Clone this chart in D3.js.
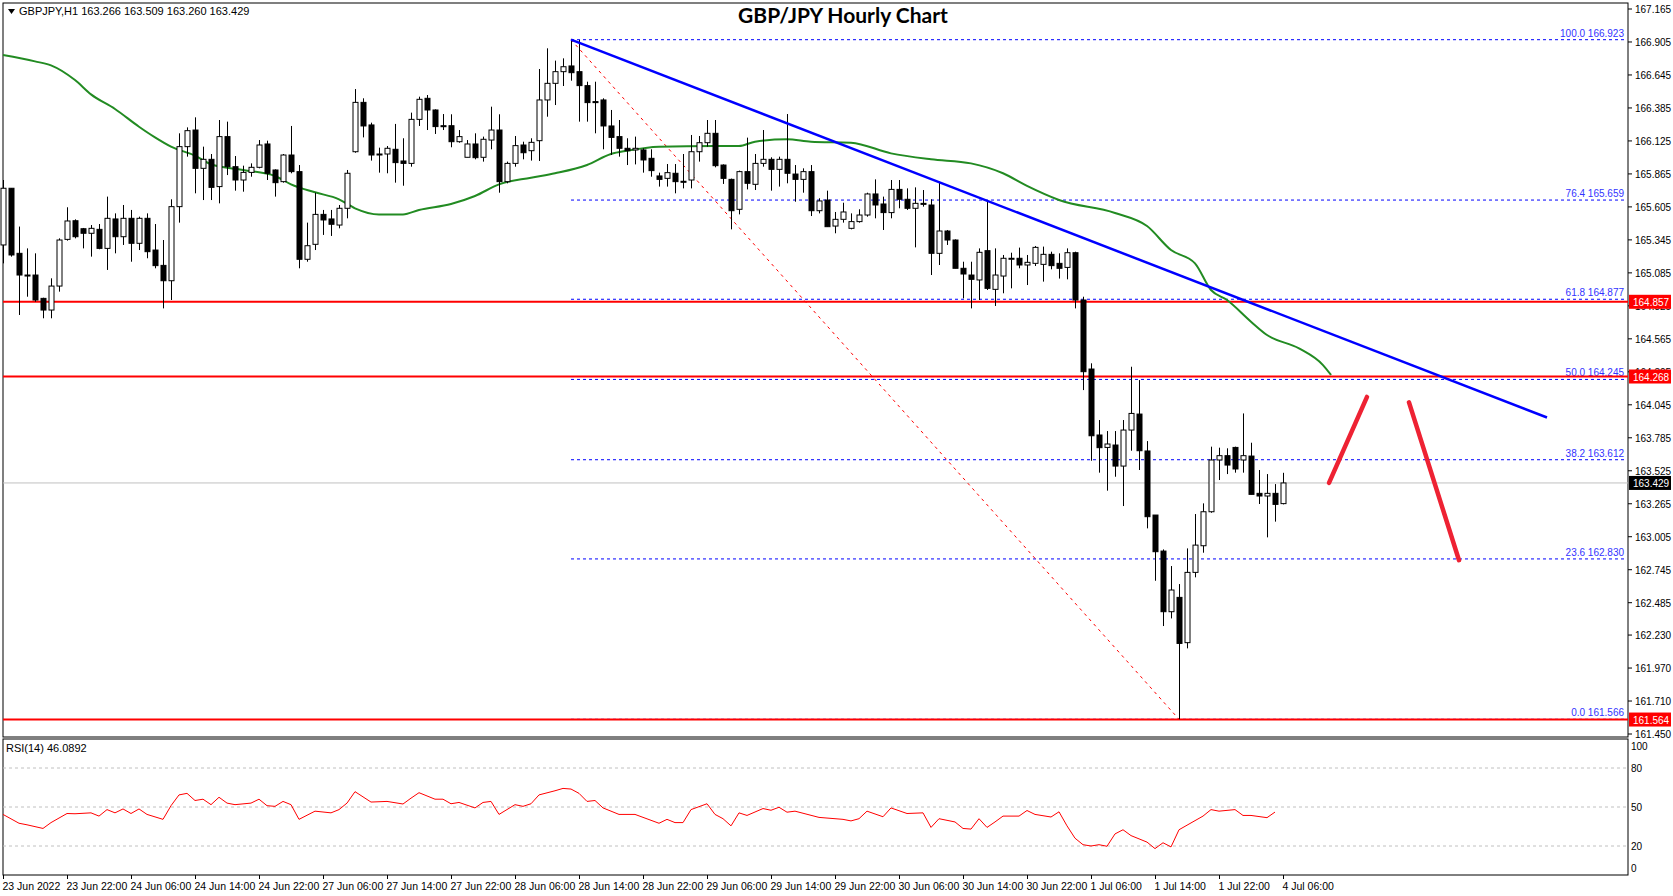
<!DOCTYPE html>
<html>
<head>
<meta charset="utf-8">
<script src="https://cdn.jsdelivr.net/npm/d3@7"></script>
<style>
  body { margin: 0; background: #fff; }
  text { font-family: "Liberation Sans", Arial, sans-serif; }
</style>
</head>
<body>
<svg id="chart" width="1673" height="896"></svg>
<script>
// candles, 1 hour each, 23 Jun 14:00 .. 4 Jul 06:00
const opens = [
  165.305,165.752,165.239,165.068,165.068,164.884,164.792,164.981,165.349,165.496,
  165.433,165.397,165.428,165.278,165.510,165.370,165.515,165.318,165.515,165.265,
  165.144,165.023,165.607,166.080,166.211,165.909,165.980,165.765,166.159,165.922,
  165.817,165.877,165.917,166.101,165.896,165.804,166.014,165.883,165.192,165.310,
  165.546,165.510,165.462,165.594,166.040,166.429,166.251,166.017,166.022,166.059,
  165.967,165.948,166.295,166.461,166.369,166.245,166.245,166.119,165.996,166.101,
  165.996,166.132,166.211,165.804,165.948,166.093,166.048,166.127,166.448,166.579,
  166.671,166.716,166.671,166.561,166.435,166.448,166.243,166.159,166.067,166.054,
  166.054,165.988,165.849,165.830,165.870,165.807,165.817,166.040,166.111,166.185,
  165.935,165.822,165.586,165.883,165.783,165.948,165.980,165.901,165.980,165.864,
  165.822,165.883,165.575,165.659,165.454,165.507,165.436,165.489,165.541,165.707,
  165.628,165.560,165.743,165.665,165.594,165.633,165.620,165.239,165.415,165.344,
  165.121,165.068,165.029,165.260,164.955,165.060,165.197,165.200,165.147,165.160,
  165.152,165.231,165.160,165.128,165.244,164.871,164.327,163.807,163.709,163.728,
  163.562,163.846,163.972,163.681,163.176,162.892,162.414,162.527,162.170,162.724,
  162.934,163.202,163.610,163.644,163.709,163.610,163.641,163.347,163.326,163.347,163.266];
const highs = [
  165.817,165.752,165.450,165.278,165.239,164.889,165.042,165.357,165.602,165.507,
  165.439,165.462,165.470,165.686,165.554,165.620,165.581,165.528,165.554,165.470,
  165.344,165.665,166.185,166.232,166.311,166.080,166.022,166.290,166.277,166.006,
  165.930,165.948,166.132,166.127,165.901,166.022,166.243,165.935,165.481,165.717,
  165.581,165.581,165.620,165.896,166.534,166.461,166.269,166.072,166.085,166.259,
  166.146,166.348,166.474,166.487,166.374,166.337,166.335,166.211,166.132,166.185,
  166.159,166.395,166.335,165.962,166.164,166.119,166.146,166.692,166.855,166.758,
  166.776,166.923,166.921,166.592,166.592,166.461,166.369,166.290,166.146,166.159,
  166.067,166.059,165.875,165.943,165.943,166.022,166.172,166.164,166.290,166.290,
  165.940,165.828,165.891,166.151,166.022,166.211,165.996,166.001,166.337,165.935,
  165.909,165.935,165.673,165.733,165.565,165.638,165.554,165.586,165.717,165.822,
  165.686,165.817,165.817,165.751,165.759,165.738,165.665,165.804,165.423,165.349,
  165.173,165.173,165.278,165.659,165.278,165.226,165.244,165.284,165.226,165.297,
  165.292,165.252,165.239,165.278,165.252,164.897,164.372,163.925,163.838,163.838,
  163.925,164.345,164.240,163.759,163.176,162.905,162.774,162.632,162.913,163.184,
  163.268,163.715,163.707,163.702,163.715,163.977,163.746,163.531,163.499,163.420,163.509];
const lows = [
  165.160,165.213,164.753,164.897,164.858,164.727,164.727,164.937,165.339,165.357,
  165.278,165.213,165.271,165.108,165.239,165.305,165.173,165.265,165.200,165.121,
  164.805,164.871,165.481,166.001,165.712,165.659,165.659,165.633,165.856,165.733,
  165.725,165.843,165.909,165.817,165.686,165.796,165.870,165.121,165.173,165.265,
  165.384,165.376,165.436,165.515,166.032,166.153,165.970,165.875,165.870,165.796,
  165.772,165.922,166.243,166.211,166.180,166.211,166.075,166.111,165.996,165.980,
  165.962,166.059,165.717,165.791,165.922,165.980,165.970,165.967,166.316,166.408,
  166.558,166.600,166.277,166.277,166.185,166.059,166.014,166.001,165.935,165.940,
  165.875,165.843,165.765,165.765,165.712,165.751,165.751,165.962,166.080,165.917,
  165.786,165.428,165.546,165.743,165.738,165.922,165.733,165.765,165.791,165.646,
  165.717,165.533,165.554,165.449,165.397,165.481,165.428,165.481,165.528,165.515,
  165.423,165.515,165.594,165.581,165.286,165.607,165.068,165.147,165.305,165.121,
  164.884,164.805,164.871,164.950,164.824,164.924,164.963,165.121,164.989,165.139,
  165.016,165.113,165.040,165.034,164.805,164.161,163.604,163.510,163.368,163.478,
  163.247,163.683,163.531,163.071,162.658,162.301,162.361,161.566,162.125,162.685,
  162.879,163.194,163.452,163.499,163.510,163.510,163.339,163.263,163.000,163.124,163.260];
const closes = [
  165.752,165.226,165.068,165.063,164.871,164.792,164.981,165.344,165.494,165.370,
  165.397,165.436,165.278,165.515,165.370,165.515,165.318,165.515,165.252,165.142,
  165.023,165.607,166.080,166.206,165.909,165.980,165.759,166.159,165.922,165.817,
  165.877,165.917,166.093,165.870,165.796,166.014,165.883,165.192,165.299,165.546,
  165.502,165.468,165.594,165.870,166.429,166.243,166.014,166.022,166.067,165.954,
  165.948,166.295,166.453,166.369,166.238,166.243,166.119,166.159,166.101,165.993,
  166.138,166.211,165.804,165.948,166.088,166.032,166.114,166.448,166.579,166.671,
  166.710,166.663,166.561,166.427,166.427,166.243,166.153,166.067,166.048,166.067,
  165.975,165.891,165.822,165.875,165.804,165.804,166.040,166.111,166.185,165.930,
  165.830,165.575,165.883,165.791,165.948,165.980,165.901,165.980,165.870,165.822,
  165.883,165.575,165.652,165.449,165.507,165.565,165.489,165.541,165.707,165.620,
  165.560,165.743,165.665,165.594,165.633,165.625,165.239,165.415,165.344,165.121,
  165.076,165.034,165.247,164.963,165.068,165.200,165.200,165.147,165.168,165.286,
  165.231,165.142,165.121,165.244,164.871,164.306,163.801,163.707,163.736,163.562,
  163.846,163.977,163.683,163.163,162.887,162.414,162.585,162.164,162.724,162.939,
  163.202,163.610,163.644,163.570,163.539,163.644,163.339,163.326,163.347,163.260,163.429];

// moving average (green), read at these bars
const maBars = [0,4,6,9,11,14,17,19,21,24,26,30,34,36,39,42,44,47,50,52,56,59,62,66,69,73,76,78,82,89,92,94,98,101,106,111,116,121,125,128,132,139,143,146,149,151,153,156,158,162,165,166];
const maVals = [166.802,166.752,166.721,166.605,166.492,166.377,166.237,166.153,166.080,166.009,165.941,165.896,165.849,165.783,165.720,165.665,165.594,165.546,165.546,165.581,165.628,165.691,165.783,165.835,165.870,165.935,166.022,166.048,166.080,166.085,166.085,166.119,166.138,166.119,166.111,166.027,165.980,165.948,165.870,165.770,165.659,165.557,165.454,165.265,165.160,164.950,164.871,164.700,164.595,164.490,164.358,164.280];

// RSI(14)
const rsiBars = [0,2,3,5,6,8,9,11,12,13,14,15,16,17,18,20,21,22,23,24,25,26,27,28,29,31,32,33,34,35,36,37,39,41,42,43,44,46,48,50,51,52,54,55,56,57,59,60,61,62,64,65,66,67,69,70,71,72,73,74,75,77,79,82,83,84,85,86,88,89,90,91,92,93,95,96,97,98,99,102,105,106,107,108,110,111,113,115,116,117,119,120,121,122,123,124,125,127,128,129,131,132,133,134,135,136,137,138,139,140,141,143,144,145,146,147,148,150,151,152,154,155,156,158,159,160];
const rsiVals = [44.3,37.5,36.3,33.5,38,45,44.8,45.5,43,48,45.5,48.5,45,48.5,44.3,40.5,51,59.3,60.5,55,56,51.8,57.5,53,51.8,53,56,51,50.5,54.3,51.8,40.5,46.8,45.5,48,53,61.8,53.8,54.3,52.3,56.8,61,56,56,52.5,53.5,49.3,53.5,54.3,44.3,51.8,50.5,52.5,59.3,62.5,64.3,63.8,60.5,54.3,55,49.3,44.3,44.3,37.5,40.5,38,38,48,52.5,44.3,41,35.5,45.5,43.5,48.8,47.5,49.8,46,46.8,42,40.5,39.3,41,46.8,42.5,49.3,45,45.5,34.3,41,38.5,33.5,33,41,34.3,38.5,43,43,47.3,44.3,42.3,46.3,35.5,26,21,20,21,19.8,29.3,32.5,28,23,18,22.5,19.3,32.5,36,43,48,46.8,48,43.5,43.5,41.8,46.1];

const priceTicks = [167.165,166.905,166.645,166.385,166.125,165.865,165.605,165.345,165.085,164.825,164.565,164.305,164.045,163.785,163.525,163.265,163.005,162.745,162.485,162.230,161.970,161.710,161.450];
const timeLabels = ["23 Jun 2022","23 Jun 22:00","24 Jun 06:00","24 Jun 14:00","24 Jun 22:00","27 Jun 06:00","27 Jun 14:00","27 Jun 22:00","28 Jun 06:00","28 Jun 14:00","28 Jun 22:00","29 Jun 06:00","29 Jun 14:00","29 Jun 22:00","30 Jun 06:00","30 Jun 14:00","30 Jun 22:00","1 Jul 06:00","1 Jul 14:00","1 Jul 22:00","4 Jul 06:00"];

const fibPct = ["100.0","76.4","61.8","50.0","38.2","23.6","0.0"];
const fibVals = [166.923,165.659,164.877,164.245,163.612,162.830,161.566];
const redLevels = [164.857,164.268,161.564];
const lastPrice = 163.429;
// trend line, fib swing and projected path (bar, price)
const trendBars = [71,193], trendVals = [166.923,163.945];
const swingBars = [71,147], swingVals = [166.923,161.566];
const pathA = [[165.75,163.430],[170.5,164.107]];
const pathB = [[175.75,164.064],[182,162.820]];

const svg = d3.select("#chart");
const L = 3, R = 1628, T = 3, B = 737, RT = 739, RB = 875;

const x = d3.scaleLinear().domain([0,160]).range([3,1283]);
const y = d3.scaleLinear().domain([161.450,167.165]).range([734,9]);
const yr = d3.scaleLinear().domain([0,100]).range([872,742]);

// frames
svg.append("rect").attr("x",L).attr("y",T).attr("width",R-L).attr("height",B-T).attr("fill","none").attr("stroke","#000");
svg.append("rect").attr("x",L).attr("y",RT).attr("width",R-L).attr("height",RB-RT).attr("fill","none").attr("stroke","#000");

const main = svg.append("g");

// last price line
main.append("line").attr("x1",L).attr("x2",R).attr("y1",y(lastPrice)).attr("y2",y(lastPrice)).attr("stroke","#c0c0c0");

// fib levels
fibVals.forEach((v,i) => {
  main.append("line").attr("x1",x(swingBars[0])).attr("x2",R-2).attr("y1",y(v)).attr("y2",y(v))
    .attr("stroke","#0000ff").attr("stroke-dasharray","3,3");
  main.append("text").attr("x",R-4).attr("y",y(v)-3).attr("text-anchor","end")
    .attr("font-size",10).attr("fill","#3333ff").text(fibPct[i] + " " + v.toFixed(3));
});

// red horizontal levels
redLevels.forEach(v => {
  main.append("line").attr("x1",L).attr("x2",R).attr("y1",y(v)).attr("y2",y(v)).attr("stroke","#ff0000").attr("stroke-width",2);
});

// fib swing (dashed red)
main.append("line").attr("x1",x(swingBars[0])).attr("y1",y(swingVals[0])).attr("x2",x(swingBars[1])).attr("y2",y(swingVals[1]))
  .attr("stroke","#ff0000").attr("stroke-dasharray","3,4");

// moving average
const line = d3.line().x(d => x(d[0])).y(d => y(d[1])).curve(d3.curveMonotoneX);
main.append("path").datum(maBars.map((b,i) => [b, maVals[i]])).attr("d", line)
  .attr("fill","none").attr("stroke","#228b22").attr("stroke-width",2);

// candles
const idx = d3.range(closes.length);
main.selectAll(".wick").data(idx).join("line")
  .attr("x1", i => Math.round(x(i))+0.5).attr("x2", i => Math.round(x(i))+0.5)
  .attr("y1", i => y(highs[i])).attr("y2", i => y(lows[i])).attr("stroke","#000");
main.selectAll(".body").data(idx).join("rect")
  .attr("x", i => Math.round(x(i))-2)
  .attr("y", i => y(Math.max(opens[i],closes[i])))
  .attr("width", 5)
  .attr("height", i => Math.max(1, Math.abs(y(opens[i])-y(closes[i]))))
  .attr("fill", i => closes[i] >= opens[i] ? "#fff" : "#000")
  .attr("stroke","#000").attr("stroke-width",1);

// trend line
main.append("line").attr("x1",x(trendBars[0])).attr("y1",y(trendVals[0])).attr("x2",x(trendBars[1])).attr("y2",y(trendVals[1]))
  .attr("stroke","#0000ff").attr("stroke-width",2.5);

// projected path
[pathA, pathB].forEach(p => {
  main.append("line").attr("x1",x(p[0][0])).attr("y1",y(p[0][1])).attr("x2",x(p[1][0])).attr("y2",y(p[1][1]))
    .attr("stroke","#ee2233").attr("stroke-width",4.5).attr("stroke-linecap","round");
});

// price axis
priceTicks.forEach(v => {
  svg.append("line").attr("x1",R).attr("x2",R+4).attr("y1",y(v)).attr("y2",y(v)).attr("stroke","#000");
  svg.append("text").attr("x",R+7).attr("y",y(v)+4).attr("font-size",10).text(v.toFixed(3));
});
redLevels.forEach(v => {
  svg.append("rect").attr("x",R+1).attr("y",y(v)-7).attr("width",42).attr("height",14).attr("fill","#ff0000");
  svg.append("text").attr("x",R+5).attr("y",y(v)+4).attr("font-size",10).attr("fill","#fff").text(v.toFixed(3));
});
svg.append("rect").attr("x",R+1).attr("y",y(lastPrice)-7).attr("width",42).attr("height",14).attr("fill","#000");
svg.append("text").attr("x",R+5).attr("y",y(lastPrice)+4).attr("font-size",10).attr("fill","#fff").text(lastPrice.toFixed(3));

// header and title
svg.append("path").attr("d","M8,9 L15,9 L11.5,14 Z").attr("fill","#000");
svg.append("text").attr("x",19).attr("y",15).attr("font-size",11).text("GBPJPY,H1  163.266 163.509 163.260 163.429");
svg.append("text").attr("x",843).attr("y",23).attr("text-anchor","middle")
  .attr("font-weight","bold").attr("font-size",21).style("font-family","Lato, sans-serif").text("GBP/JPY Hourly Chart");

// RSI pane
[80,50,20].forEach(v => {
  svg.append("line").attr("x1",L).attr("x2",R).attr("y1",yr(v)).attr("y2",yr(v)).attr("stroke","#c0c0c0").attr("stroke-dasharray","3,3");
});
[100,80,50,20,0].forEach(v => {
  svg.append("text").attr("x",R+3).attr("y",Math.min(Math.max(yr(v)+4,750),872)).attr("font-size",10).text(v);
});
svg.append("path").datum(rsiBars.map((b,i) => [b, rsiVals[i]]))
  .attr("d", d3.line().x(d => x(d[0])).y(d => yr(d[1])))
  .attr("fill","none").attr("stroke","#ff0000");
svg.append("text").attr("x",6).attr("y",752).attr("font-size",11).text("RSI(14) 46.0892");

// time axis
timeLabels.forEach((t,i) => {
  const xx = Math.round(x(i*8))+0.5;
  svg.append("line").attr("x1",xx).attr("x2",xx).attr("y1",RB).attr("y2",RB+4).attr("stroke","#000");
  svg.append("text").attr("x",xx-1).attr("y",890).attr("font-size",10.5).text(t);
});
</script>
</body>
</html>
